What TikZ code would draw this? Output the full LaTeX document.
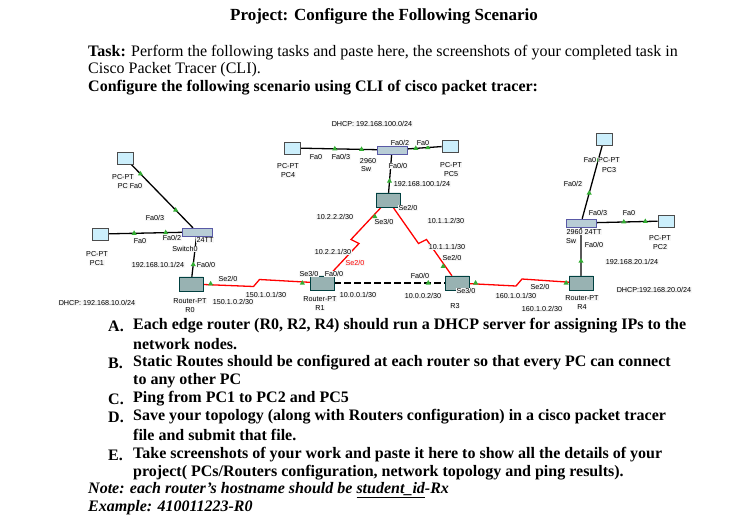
\documentclass[tikz,border=0pt]{standalone}
\usepackage{fontspec}
\setmainfont{Liberation Serif}
\newfontfamily\lab{Liberation Sans}
\usetikzlibrary{shapes.geometric,calc}
\begin{document}
\begin{tikzpicture}[x=1pt,y=-1pt,
  lbl/.style={font=\lab\fontsize{7.2}{8}\selectfont,inner sep=0.5pt,fill=white!94!gray},
  txt/.style={anchor=west,inner sep=0,font=\fontsize{16}{17}\selectfont},
  btxt/.style={txt,font=\bfseries\fontsize{16}{17}\selectfont},
  rtr/.style={cylinder,shape border rotate=90,aspect=0.35,minimum width=24pt,minimum height=14pt,draw=teal!50!black,fill=teal!35!gray!60,inner sep=0,line width=0.3pt},
  sw/.style={rectangle,minimum width=30pt,minimum height=8pt,draw=blue!30!gray,fill=cyan!30!gray!50,inner sep=0,line width=0.3pt},
  pc/.style={rectangle,minimum width=16pt,minimum height=12pt,draw=gray!60!black,fill=cyan!20!white,line width=0.8pt,inner sep=0},
  eth/.style={line width=1.3pt,black},
  ser/.style={line width=1.3pt,red},
  dsh/.style={line width=1.3pt,black,dash pattern=on 7pt off 3pt},
  tri/.style={regular polygon,regular polygon sides=3,fill=green!60!black!80,minimum size=6pt,inner sep=0},
]
\useasboundingbox (0,0) rectangle (730,530);
\fill[white] (0,0) rectangle (730,530);
% ---- text
\node[font=\bfseries\fontsize{17}{18}\selectfont] (title) at (384,16) {Project: Configure the Following Scenario};
\node[txt] (t1) at (88,53) {\textbf{Task:} Perform the following tasks and paste here, the screenshots of your completed task in};
\node[txt] (t2) at (88,70) {Cisco Packet Tracer (CLI).};
\node[btxt] (t3) at (88,88) {Configure the following scenario using CLI of cisco packet tracer:};
% ---- devices
\node[pc] (pctop) at (125,158) {};
\node[pc] (pc1) at (100,234) {};
\node[sw] (sw0) at (197,232) {};
\node[rtr] (r0) at (191,284) {};
\node[pc] (pc4) at (292,148) {};
\node[sw] (sw1) at (392,150) {};
\node[pc] (pc5) at (450,146) {};
\node[rtr] (rc) at (388,200) {};
\node[rtr] (r1) at (322,283) {};
\node[rtr] (r3) at (457,283) {};
\node[rtr] (r4) at (581,283) {};
\node[sw] (sw2) at (581,223) {};
\node[pc] (pc2) at (666,221) {};
\node[pc] (pc3) at (604,139) {};
% ---- links
\draw[eth] (pctop) -- (sw0) node[tri,pos=0.15]{} node[tri,pos=0.72]{};
\draw[eth] (pc1) -- (sw0) node[tri,pos=0.35]{} node[tri,pos=0.78]{};
\draw[eth] (sw0) -- (r0) node[tri,pos=0.7]{};
\draw[eth] (pc4) -- (sw1) node[tri,pos=0.45]{} node[tri,pos=0.8]{};
\draw[eth] (sw1) -- (pc5) node[tri,pos=0.25]{} node[tri,pos=0.6]{};
\draw[eth] (sw1) -- (rc) node[tri,pos=0.7]{};
\draw[eth] (pc3) -- (sw2) node[tri,pos=0.2]{} node[tri,pos=0.65]{};
\draw[eth] (sw2) -- (pc2) node[tri,pos=0.45]{} node[tri,pos=0.8]{};
\draw[eth] (sw2) -- (r4) node[tri,pos=0.7]{};
\draw[ser] (r0) -- ($(r0)!0.5!(r1)+(-3,3)$) -- ($(r0)!0.5!(r1)+(3,-4)$) -- (r1);
\draw[ser] (r1) -- ($(r1)!0.5!(rc)+(4,2)$) -- ($(r1)!0.5!(rc)+(-4,-2)$) -- (rc);
\draw[ser] (rc) -- ($(rc)!0.5!(r3)+(-4,2)$) -- ($(rc)!0.5!(r3)+(4,-2)$) -- (r3);
\draw[ser] (r3) -- ($(r3)!0.5!(r4)+(-3,3)$) -- ($(r3)!0.5!(r4)+(3,-4)$) -- (r4);
\draw[dsh] (r1) -- (r3) node[tri,pos=0.85]{};
\node[tri] (m1) at ($(r0)!0.15!(r1)$) {};
\node[tri] (m2) at ($(r1)!0.15!(r0)$) {};
\node[tri] (m3) at ($(r3)!0.15!(r4)$) {};
\node[tri] (m4) at ($(r4)!0.12!(r3)$) {};
\node[tri] (m5) at ($(r3)!0.2!(rc)$) {};
\node[tri] (m6) at ($(rc)!0.2!(r1)$) {};
% redraw devices over lines
\node[rtr] at (r0) {};\node[rtr] at (r1) {};\node[rtr] at (r3) {};\node[rtr] at (r4) {};\node[rtr] at (rc) {};
\node[sw] at (sw0) {};\node[sw] at (sw1) {};\node[sw] at (sw2) {};
\node[pc] at (pctop) {};\node[pc] at (pc1) {};\node[pc] at (pc2) {};\node[pc] at (pc3) {};\node[pc] at (pc4) {};\node[pc] at (pc5) {};
% ---- labels
\node[lbl] (l1) at (372,124) {DHCP: 192.168.100.0/24};
\node[lbl] (l2) at (288,166) {PC-PT};
\node[lbl] (l3) at (288,175) {PC4};
\node[lbl] (l4) at (316,157) {Fa0};
\node[lbl] (l5) at (341,157) {Fa0/3};
\node[lbl] (l6) at (400,143) {Fa0/2};
\node[lbl] (l7) at (423,143) {Fa0};
\node[lbl] (l8) at (368,161) {2960};
\node[lbl] (l9) at (366,169) {Sw};
\node[lbl] (l10) at (398,166) {Fa0/0};
\node[lbl] (l11) at (451,165) {PC-PT};
\node[lbl] (l12) at (451,174) {PC5};
\node[lbl] (l13) at (422,184) {192.168.100.1/24};
\node[lbl] (l14) at (408,208) {Se2/0};
\node[lbl] (l15) at (335,217) {10.2.2.2/30};
\node[lbl] (l16) at (384,222) {Se3/0};
\node[lbl] (l17) at (446,221) {10.1.1.2/30};
\node[lbl] (l18) at (123,177) {PC-PT};
\node[lbl] (l19) at (130,186) {PC Fa0};
\node[lbl] (l20) at (155,218) {Fa0/3};
\node[lbl] (l21) at (172,238) {Fa0/2};
\node[lbl] (l22) at (205,240) {24TT};
\node[lbl] (l23) at (185,249) {Switch0};
\node[lbl] (l24) at (140,241) {Fa0};
\node[lbl] (l25) at (97,254) {PC-PT};
\node[lbl] (l26) at (97,263) {PC1};
\node[lbl] (l27) at (158,265) {192.168.10.1/24};
\node[lbl] (l28) at (206,265) {Fa0/0};
\node[lbl] (l29) at (228,279) {Se2/0};
\node[lbl] (l30) at (190,301) {Router-PT};
\node[lbl] (l31) at (190,310) {R0};
\node[lbl] (l32) at (97,303) {DHCP: 192.168.10.0/24};
\node[lbl] (l33) at (233,302) {150.1.0.2/30};
\node[lbl] (l34) at (266,295) {150.1.0.1/30};
\node[lbl] (l35) at (309,274) {Se3/0};
\node[lbl] (l36) at (334,274) {Fa0/0};
\node[lbl,text=red] (l37) at (355,263) {Se2/0};
\node[lbl] (l38) at (333,252) {10.2.2.1/30};
\node[lbl] (l39) at (320,299) {Router-PT};
\node[lbl] (l40) at (320,308) {R1};
\node[lbl] (l41) at (358,295) {10.0.0.1/30};
\node[lbl] (l42) at (420,276) {Fa0/0};
\node[lbl] (l43) at (447,247) {10.1.1.1/30};
\node[lbl] (l44) at (452,258) {Se2/0};
\node[lbl] (l45) at (466,291) {Se3/0};
\node[lbl] (l46) at (423,296) {10.0.0.2/30};
\node[lbl] (l47) at (455,306) {R3};
\node[lbl] (l48) at (516,296) {160.1.0.1/30};
\node[lbl] (l49) at (540,287) {Se2/0};
\node[lbl] (l50) at (582,298) {Router-PT};
\node[lbl] (l51) at (582,307) {R4};
\node[lbl] (l52) at (542,309) {160.1.0.2/30};
\node[lbl] (l53) at (654,290) {DHCP:192.168.20.0/24};
\node[lbl] (l54) at (584,232) {2960 24TT};
\node[lbl] (l55) at (571,241) {Sw};
\node[lbl] (l56) at (594,245) {Fa0/0};
\node[lbl] (l57) at (632,262) {192.168.20.1/24};
\node[lbl] (l58) at (598,213) {Fa0/3};
\node[lbl] (l59) at (629,213) {Fa0};
\node[lbl] (l60) at (660,238) {PC-PT};
\node[lbl] (l61) at (660,247) {PC2};
\node[lbl] (l62) at (573,184) {Fa0/2};
\node[lbl] (l63) at (590,160) {Fa0};
\node[lbl] (l64) at (609,160) {PC-PT};
\node[lbl] (l65) at (609,170) {PC3};
% ---- list
\node[btxt] (a1) at (108,326) {A.};
\node[btxt] (a2) at (133,326) {Each edge router (R0, R2, R4) should run a DHCP server for assigning IPs to the};
\node[btxt] (a3) at (133,344) {network nodes.};
\node[btxt] (b1) at (108,363) {B.};
\node[btxt] (b2) at (133,363) {Static Routes should be configured at each router so that every PC can connect};
\node[btxt] (b3) at (133,381) {to any other PC};
\node[btxt] (c1) at (108,399) {C.};
\node[btxt] (c2) at (133,399) {Ping from PC1 to PC2 and PC5};
\node[btxt] (d1) at (108,417) {D.};
\node[btxt] (d2) at (133,417) {Save your topology (along with Routers configuration) in a cisco packet tracer};
\node[btxt] (d3) at (133,435) {file and submit that file.};
\node[btxt] (e1) at (108,455) {E.};
\node[btxt] (e2) at (133,455) {Take screenshots of your work and paste it here to show all the details of your};
\node[btxt] (e3) at (133,473) {project( PCs/Routers configuration, network topology and ping results).};
\node[txt,font=\bfseries\itshape\fontsize{16}{17}\selectfont] (n1) at (88,490) {Note: each router’s hostname should be \underline{student\_id}-Rx};
\node[txt,font=\bfseries\itshape\fontsize{16}{17}\selectfont] (n2) at (88,508) {Example: 410011223-R0};
\end{tikzpicture}
\end{document}
